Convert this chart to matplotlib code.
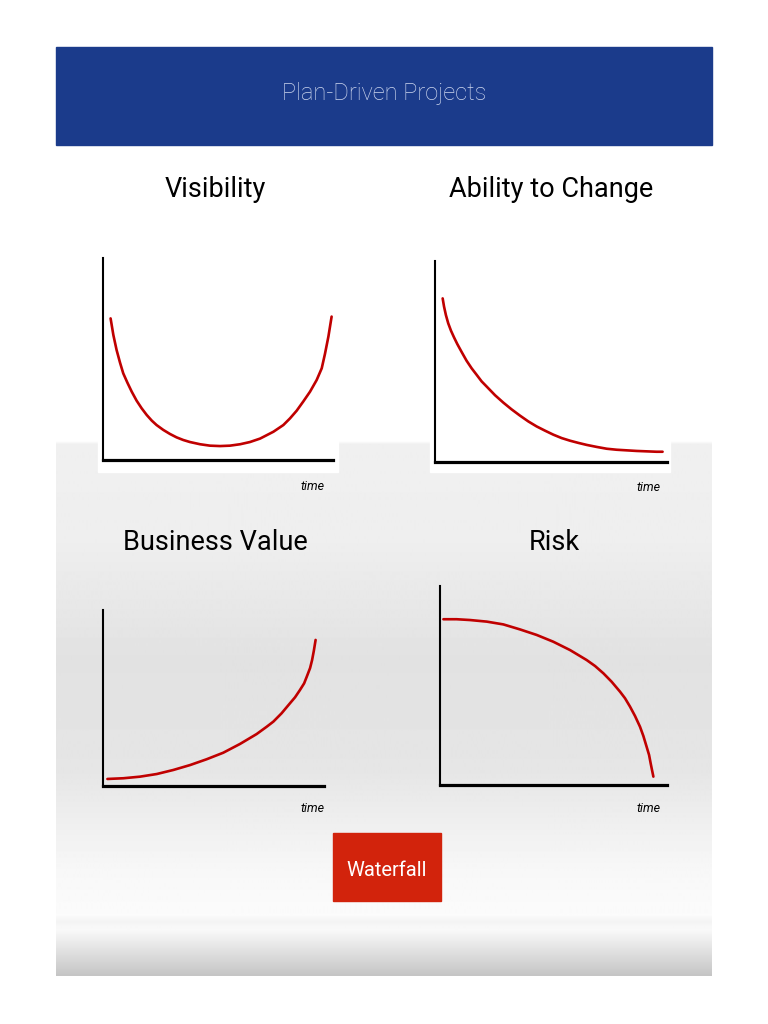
import numpy as np
import matplotlib.pyplot as plt
from matplotlib.patches import Rectangle

# valores (tiempo 0..10, valor 0..10)
visibility_t = [0.33, 0.45, 0.59, 0.74, 0.88, 1.06, 1.25, 1.46, 1.68, 1.90, 2.12, 2.33, 2.62, 2.91,
                3.20, 3.49, 3.78, 4.22, 4.65, 5.09, 5.52, 5.96, 6.39, 6.83, 7.41, 7.84, 8.13, 8.42,
                8.71, 9.00, 9.29, 9.51, 9.65, 9.80, 9.94]
visibility_v = [7.01, 6.19, 5.45, 4.82, 4.29, 3.83, 3.38, 2.94, 2.56, 2.23, 1.95, 1.73, 1.49, 1.29,
                1.12, 0.99, 0.89, 0.78, 0.71, 0.69, 0.71, 0.78, 0.89, 1.06, 1.40, 1.73, 2.06, 2.44,
                2.90, 3.38, 3.96, 4.54, 5.25, 6.11, 7.10]

change_t = [0.33, 0.39, 0.47, 0.57, 0.69, 0.82, 0.96, 1.15, 1.36, 1.58, 1.80, 2.01, 2.23, 2.59,
            2.95, 3.30, 3.66, 4.02, 4.38, 4.74, 5.10, 5.46, 5.82, 6.18, 6.54, 6.97, 7.40, 7.83,
            8.26, 8.69, 9.12, 9.55, 9.81]
change_v = [8.14, 7.73, 7.31, 6.90, 6.53, 6.20, 5.87, 5.47, 5.04, 4.66, 4.33, 4.01, 3.75, 3.32,
            2.95, 2.62, 2.31, 2.02, 1.77, 1.56, 1.36, 1.19, 1.06, 0.95, 0.85, 0.75, 0.66, 0.61,
            0.58, 0.55, 0.53, 0.51, 0.51]

value_t = [0.20, 0.92, 1.67, 2.43, 3.18, 3.94, 4.69, 5.44, 6.20, 6.95, 7.41, 7.71, 8.08, 8.46,
           8.69, 8.91, 9.10, 9.22, 9.37, 9.46, 9.54, 9.62]
value_v = [0.40, 0.44, 0.53, 0.68, 0.91, 1.19, 1.52, 1.89, 2.39, 2.95, 3.37, 3.66, 4.13, 4.70,
           5.04, 5.45, 5.83, 6.21, 6.70, 7.15, 7.68, 8.30]

risk_t = [0.15, 0.73, 1.32, 2.06, 2.79, 3.52, 4.26, 4.99, 5.73, 6.46, 6.83, 7.20, 7.56, 7.93,
          8.15, 8.37, 8.59, 8.81, 8.96, 9.10, 9.21, 9.28, 9.34, 9.40]
risk_v = [8.33, 8.33, 8.29, 8.21, 8.07, 7.82, 7.54, 7.20, 6.78, 6.28, 5.98, 5.61, 5.19, 4.69,
          4.36, 3.94, 3.47, 2.93, 2.46, 1.93, 1.51, 1.09, 0.75, 0.42]

titles = ['Visibility', 'Ability to Change', 'Business Value', 'Risk']
header = 'Plan-Driven Projects'
x_label = 'time'
button = 'Waterfall'

W, H = 768, 1024
FUENTE = ['Roboto', 'DejaVu Sans']


def rect(x0, y0, x1, y1):
    # caja en pixeles (origen arriba-izquierda) -> coordenadas de figura
    return [x0 / W, 1 - y1 / H, (x1 - x0) / W, (y1 - y0) / H]


fig = plt.figure(figsize=(7.68, 10.24), dpi=100)
fig.patch.set_facecolor('white')

# fondo de la diapositiva
bg = fig.add_axes([0, 0, 1, 1])
bg.set_xlim(0, W)
bg.set_ylim(H, 0)
bg.axis('off')

ys = np.arange(145, 977)
stops_y = [145, 441, 444, 540, 660, 770, 870, 915, 922, 926, 930, 976]
stops_g = [1.0, 1.0, 0.94, 0.935, 0.885, 0.90, 0.97, 0.985, 0.955, 0.97, 0.975, 0.77]
gray = np.interp(ys, stops_y, stops_g)
grad = np.repeat(gray[:, None], 2, axis=1)
bg.imshow(grad, cmap='gray', vmin=0, vmax=1, aspect='auto',
          extent=[56, 712, 976, 145], zorder=0)
bg.add_patch(Rectangle((56, 47), 656, 98, color='#1b3b8b', zorder=1))
bg.text(384, 100, header, ha='center', va='baseline', fontsize=17,
        color='#cdd6ee', family=FUENTE, fontweight='light', zorder=2)

# cajas blancas detras de las graficas superiores
bg.add_patch(Rectangle((98, 250), 240, 222, color='white', zorder=1))
bg.add_patch(Rectangle((430, 252), 240, 220, color='white', zorder=1))

# boton rojo
bg.add_patch(Rectangle((333, 833), 108, 68, color='#d2230c', zorder=1))
bg.text(387, 876, button, ha='center', va='baseline', fontsize=14.5,
        color='white', family=FUENTE, zorder=2)

panels = [
    (rect(103, 258, 333, 460), visibility_t, visibility_v, (215, 197), (325, 490)),
    (rect(435, 261, 667, 462), change_t, change_v, (551, 197), (661, 491)),
    (rect(103, 610, 324, 786), value_t, value_v, (215, 550), (325, 812)),
    (rect(440, 586, 667, 785), risk_t, risk_v, (554, 550), (661, 812)),
]

for (box, t, v, tpos, lpos), title in zip(panels, titles):
    ax = fig.add_axes(box)
    ax.patch.set_alpha(0)
    ax.plot(t, v, color='#c00000', linewidth=1.9, clip_on=False,
            solid_capstyle='round', solid_joinstyle='round')
    ax.set_xlim(0, 10)
    ax.set_ylim(0, 10)
    ax.spines['top'].set_visible(False)
    ax.spines['right'].set_visible(False)
    ax.spines['left'].set_linewidth(1.5)
    ax.spines['bottom'].set_linewidth(2.3)
    ax.set_xticks([])
    ax.set_yticks([])
    bg.text(tpos[0], tpos[1], title, ha='center', va='baseline',
            fontsize=19.5, color='black', family=FUENTE, zorder=2)
    bg.text(lpos[0], lpos[1], x_label, ha='right', va='baseline',
            fontsize=9, style='italic', color='black', family=FUENTE, zorder=2)

fig.savefig('out.png', dpi=100)
